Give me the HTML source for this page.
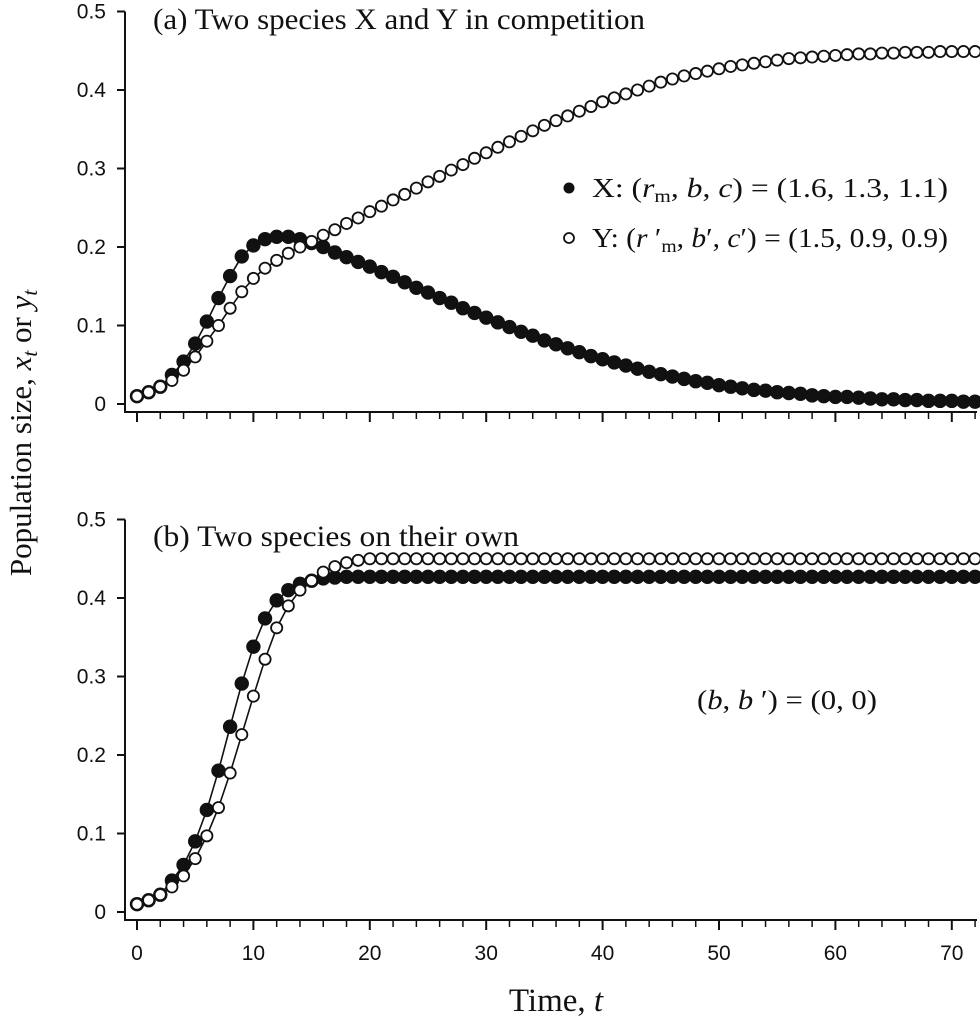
<!DOCTYPE html>
<html><head><meta charset="utf-8"><style>
html,body{margin:0;padding:0;background:#fff;}
svg{display:block;}
.tk{font-family:"Liberation Sans",sans-serif;font-size:21px;fill:#111;}
.sf{font-family:"Liberation Serif",serif;fill:#111;}
</style></head><body>
<svg id="chart" width="980" height="1024" viewBox="0 0 980 1024">
<g id="g"></g>
<text class="sf" x="153" y="29" font-size="30" textLength="492" lengthAdjust="spacingAndGlyphs">(a) Two species X and Y in competition</text>
<text class="sf" x="153" y="546" font-size="30" textLength="366" lengthAdjust="spacingAndGlyphs">(b) Two species on their own</text>
<circle cx="569" cy="188" r="5.5" fill="#111"/>
<text class="sf" x="592" y="197" font-size="27" textLength="356" lengthAdjust="spacingAndGlyphs">X:  (<tspan font-style="italic">r</tspan><tspan font-size="18" dy="5">m</tspan><tspan dy="-5">, </tspan><tspan font-style="italic">b</tspan>, <tspan font-style="italic">c</tspan>) = (1.6, 1.3, 1.1)</text>
<circle cx="569" cy="238" r="5" fill="#fff" stroke="#111" stroke-width="1.8"/>
<text class="sf" x="592" y="247" font-size="27" textLength="356" lengthAdjust="spacingAndGlyphs">Y: (<tspan font-style="italic">r</tspan> ′<tspan font-size="18" dy="5">m</tspan><tspan dy="-5">, </tspan><tspan font-style="italic">b</tspan>′, <tspan font-style="italic">c</tspan>′) = (1.5, 0.9, 0.9)</text>
<text class="sf" x="697" y="709" font-size="27" textLength="180" lengthAdjust="spacingAndGlyphs">(<tspan font-style="italic">b</tspan>, <tspan font-style="italic">b</tspan> ′) = (0, 0)</text>
<text class="sf" x="556" y="1011" font-size="33" text-anchor="middle">Time, <tspan font-style="italic">t</tspan></text>
<text class="sf" transform="translate(31,433) rotate(-90)" font-size="31" text-anchor="middle">Population size, <tspan font-style="italic">x</tspan><tspan font-style="italic" font-size="21" dy="6">t</tspan><tspan dy="-6"> or </tspan><tspan font-style="italic">y</tspan><tspan font-style="italic" font-size="21" dy="6">t</tspan></text>
</svg>
<script>
const aX=[.01,.015,.022,.037,.054,.077,.105,.135,.163,.188,.202,.21,.213,.213,.21,.205,.2,.193,.187,.181,.175,.168,.162,.155,.148,.142,.135,.129,.122,.116,.11,.104,.098,.092,.087,.081,.076,.071,.066,.061,.057,.053,.049,.045,.041,.038,.035,.032,.029,.027,.024,.022,.02,.018,.017,.015,.014,.013,.011,.01,.009,.009,.008,.007,.006,.006,.005,.005,.004,.004,.004,.003,.003];
const aY=[.01,.015,.022,.03,.043,.06,.08,.1,.122,.143,.16,.173,.183,.192,.2,.207,.215,.222,.23,.237,.245,.252,.26,.267,.275,.283,.29,.298,.305,.313,.32,.327,.334,.341,.348,.355,.361,.367,.373,.379,.385,.39,.395,.4,.405,.41,.414,.418,.421,.424,.427,.43,.432,.434,.436,.438,.44,.441,.442,.443,.444,.445,.446,.446,.447,.447,.448,.448,.448,.449,.449,.449,.449];
const bX=[.01,.015,.022,.04,.06,.09,.13,.18,.236,.291,.338,.374,.397,.41,.418,.422,.425,.426,.427,.427,.427,.427,.427,.427,.427,.427,.427,.427,.427,.427,.427,.427,.427,.427,.427,.427,.427,.427,.427,.427,.427,.427,.427,.427,.427,.427,.427,.427,.427,.427,.427,.427,.427,.427,.427,.427,.427,.427,.427,.427,.427,.427,.427,.427,.427,.427,.427,.427,.427,.427,.427,.427,.427];
const bY=[.01,.015,.022,.032,.046,.068,.097,.133,.177,.226,.275,.322,.362,.39,.41,.422,.433,.44,.445,.448,.45,.45,.45,.45,.45,.45,.45,.45,.45,.45,.45,.45,.45,.45,.45,.45,.45,.45,.45,.45,.45,.45,.45,.45,.45,.45,.45,.45,.45,.45,.45,.45,.45,.45,.45,.45,.45,.45,.45,.45,.45,.45,.45,.45,.45,.45,.45,.45,.45,.45,.45,.45,.45];
const yTicks=[0,0.1,0.2,0.3,0.4,0.5];
const yTickLabels=["0","0.1","0.2","0.3","0.4","0.5"];
const xTicks=[0,10,20,30,40,50,60,70];
const NS="http://www.w3.org/2000/svg";
const g=document.getElementById('g');
const sx=t=>137+t*11.64;
function mk(tag,at,parent){const e=document.createElementNS(NS,tag);for(const k in at)e.setAttribute(k,at[k]);(parent||g).appendChild(e);return e;}
function panel(y0,xs,ys,name,labels){
  const sy=v=>y0-v*785;
  const p=mk('g',{});
  
  
  const ax=mk('path',{d:`M125 ${sy(0.5)} V${y0+8} H977`,fill:'none',stroke:'#111','stroke-width':2},p);
  
  
  yTicks.forEach((v,i)=>{
    mk('line',{x1:117,x2:125,y1:sy(v),y2:sy(v),stroke:'#111','stroke-width':2},p);
    const t=mk('text',{x:106,y:sy(v)+7,'text-anchor':'end',class:'tk'},p);
    
    
    t.textContent=yTickLabels[i];
  });
  for(let t=0;t<=72;t+=2){const big=t%10==0;mk('line',{x1:sx(t),x2:sx(t),y1:y0+8,y2:y0+(big?18:15),stroke:'#111','stroke-width':big?2:1.5},p);}
  if(labels) xTicks.forEach(v=>{const t=mk('text',{x:sx(v),y:y0+48,'text-anchor':'middle',class:'tk'},p);
    
    
    t.textContent=v;});
  [[ys,false],[xs,true]].forEach(([arr,filled])=>{
    const l=mk('polyline',{points:arr.map((v,i)=>sx(i)+','+sy(v)).join(' '),fill:'none',stroke:'#111','stroke-width':1.6},p);
    
    
  });
  [[xs,true],[ys,false]].forEach(([arr,filled])=>{
    arr.forEach((v,i)=>{
      const c=mk('circle',{cx:sx(i),cy:sy(v),r:filled?6.3:5.6,fill:filled?'#111':'#fff',stroke:'#111','stroke-width':1.8},p);
      
      
    });
  });
}
panel(404,aX,aY,'panel-a',false);
panel(912,bX,bY,'panel-b',true);
</script>
</body></html>
